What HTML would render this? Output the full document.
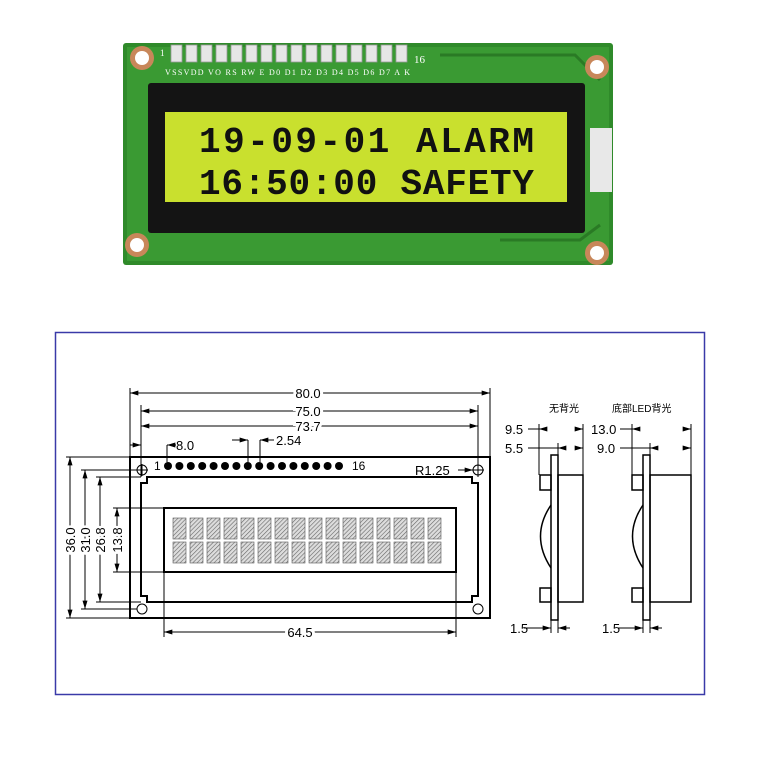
<!DOCTYPE html>
<html><head><meta charset="utf-8"><style>
html,body{margin:0;padding:0;background:#fff;width:768px;height:767px;overflow:hidden}
svg{display:block}
</style></head><body>
<svg width="768" height="767" viewBox="0 0 768 767" xmlns="http://www.w3.org/2000/svg">
<defs>
<pattern id="h" width="3" height="3" patternUnits="userSpaceOnUse" patternTransform="rotate(45)">
<rect width="3" height="3" fill="#ddd"/><line x1="0" y1="0" x2="0" y2="3" stroke="#666" stroke-width="1.2"/>
</pattern>
<marker id="a" viewBox="0 0 10 6" refX="10" refY="3" markerWidth="9" markerHeight="5" orient="auto-start-reverse"><path d="M0,0L10,3L0,6z" fill="#000"/></marker>
</defs>
<!-- PHOTO -->
<rect x="123" y="43" width="490" height="222" rx="3" fill="#2f8a2a"/>
<rect x="127" y="47" width="482" height="214" fill="#3a9a33"/>
<path d="M440 55 H575 L600 80" stroke="#2a7a25" stroke-width="3" fill="none"/>
<path d="M500 240 H580 L600 225" stroke="#2a7a25" stroke-width="3" fill="none"/>
<g fill="#c8875a"><circle cx="142" cy="58" r="12"/><circle cx="597" cy="67" r="12"/><circle cx="137" cy="245" r="12"/><circle cx="597" cy="253" r="12"/></g>
<g fill="#fff"><circle cx="142" cy="58" r="7"/><circle cx="597" cy="67" r="7"/><circle cx="137" cy="245" r="7"/><circle cx="597" cy="253" r="7"/></g>
<rect x="590" y="128" width="22" height="64" fill="#e8e8e8"/>
<g fill="#e6e6e6" stroke="#999" stroke-width="0.8">
<rect x="171" y="45" width="11" height="17"/><rect x="186" y="45" width="11" height="17"/><rect x="201" y="45" width="11" height="17"/><rect x="216" y="45" width="11" height="17"/><rect x="231" y="45" width="11" height="17"/><rect x="246" y="45" width="11" height="17"/><rect x="261" y="45" width="11" height="17"/><rect x="276" y="45" width="11" height="17"/><rect x="291" y="45" width="11" height="17"/><rect x="306" y="45" width="11" height="17"/><rect x="321" y="45" width="11" height="17"/><rect x="336" y="45" width="11" height="17"/><rect x="351" y="45" width="11" height="17"/><rect x="366" y="45" width="11" height="17"/><rect x="381" y="45" width="11" height="17"/><rect x="396" y="45" width="11" height="17"/>
</g>
<text x="160" y="56" font-family="Liberation Serif,serif" font-size="9" fill="#fff">1</text>
<text x="414" y="63" font-family="Liberation Serif,serif" font-size="11" fill="#fff">16</text>
<text x="165" y="75" font-family="Liberation Serif,serif" font-size="8" fill="#fff" textLength="245">VSSVDD VO RS RW E  D0 D1 D2 D3 D4 D5 D6 D7  A  K</text>
<rect x="148" y="83" width="437" height="150" rx="3" fill="#141414"/>
<rect x="165" y="112" width="402" height="90" fill="#c9e02e"/>
<g font-family="Liberation Mono,monospace" font-size="36" font-weight="bold" fill="#111" style="white-space:pre">
<text x="199" y="152" textLength="335">19-09-01  ALARM </text>
<text x="199" y="194" textLength="335">16:50:00  SAFETY</text>
</g>
<!-- FRAME -->
<rect x="55.5" y="332.5" width="649" height="362" fill="none" stroke="#3a3aa8" stroke-width="1.5"/>
<g stroke="#000" fill="none" stroke-width="1">
<rect x="130" y="457" width="360" height="161" stroke-width="2"/>
<path d="M147 477 H472 V483 H478 V596 H472 V602 H147 V596 H141 V483 H147 Z" stroke-width="2"/>
<rect x="164" y="508" width="292" height="64" stroke-width="2"/>
<g stroke-width="1"><circle cx="142" cy="470" r="5"/><circle cx="478" cy="470" r="5"/><circle cx="142" cy="609" r="5"/><circle cx="478" cy="609" r="5"/>
<path d="M136 470h12M142 464v12M472 470h12M478 464v12"/></g>
<path d="M130 388V457M490 388V457M141 405V477M478 405V477M164 572V637M456 572V637"/>
<path d="M66 457H130M66 618H130M81 470H137M81 609H137M96 477H141M96 602H141M113 508H164M113 572H164"/>
<path d="M167 445V462M248 440V462M260 440V462"/>
<path d="M130 393H490" marker-start="url(#a)" marker-end="url(#a)"/>
<path d="M141 411H478" marker-start="url(#a)" marker-end="url(#a)"/>
<path d="M141 426H478" marker-start="url(#a)" marker-end="url(#a)"/>
<path d="M164 632H456" marker-start="url(#a)" marker-end="url(#a)"/>
<path d="M70 457V618" marker-start="url(#a)" marker-end="url(#a)"/>
<path d="M85 470V609" marker-start="url(#a)" marker-end="url(#a)"/>
<path d="M100 477V602" marker-start="url(#a)" marker-end="url(#a)"/>
<path d="M117 508V572" marker-start="url(#a)" marker-end="url(#a)"/>
<path d="M130 445H141" marker-end="url(#a)"/><path d="M176 445H167" marker-end="url(#a)"/>
<path d="M232 440H248" marker-end="url(#a)"/><path d="M274 440H260" marker-end="url(#a)"/>
<path d="M458 470H473" marker-end="url(#a)"/>
</g>
<g fill="#000">
<circle cx="168" cy="466" r="4"/><circle cx="179.4" cy="466" r="4"/><circle cx="190.8" cy="466" r="4"/><circle cx="202.2" cy="466" r="4"/><circle cx="213.6" cy="466" r="4"/><circle cx="225" cy="466" r="4"/><circle cx="236.4" cy="466" r="4"/><circle cx="247.8" cy="466" r="4"/><circle cx="259.2" cy="466" r="4"/><circle cx="270.6" cy="466" r="4"/><circle cx="282" cy="466" r="4"/><circle cx="293.4" cy="466" r="4"/><circle cx="304.8" cy="466" r="4"/><circle cx="316.2" cy="466" r="4"/><circle cx="327.6" cy="466" r="4"/><circle cx="339" cy="466" r="4"/>
</g>
<g fill="url(#h)" stroke="#555" stroke-width="0.6">
<rect x="173" y="518" width="13" height="21"/><rect x="190" y="518" width="13" height="21"/><rect x="207" y="518" width="13" height="21"/><rect x="224" y="518" width="13" height="21"/><rect x="241" y="518" width="13" height="21"/><rect x="258" y="518" width="13" height="21"/><rect x="275" y="518" width="13" height="21"/><rect x="292" y="518" width="13" height="21"/><rect x="309" y="518" width="13" height="21"/><rect x="326" y="518" width="13" height="21"/><rect x="343" y="518" width="13" height="21"/><rect x="360" y="518" width="13" height="21"/><rect x="377" y="518" width="13" height="21"/><rect x="394" y="518" width="13" height="21"/><rect x="411" y="518" width="13" height="21"/><rect x="428" y="518" width="13" height="21"/>
<rect x="173" y="542" width="13" height="21"/><rect x="190" y="542" width="13" height="21"/><rect x="207" y="542" width="13" height="21"/><rect x="224" y="542" width="13" height="21"/><rect x="241" y="542" width="13" height="21"/><rect x="258" y="542" width="13" height="21"/><rect x="275" y="542" width="13" height="21"/><rect x="292" y="542" width="13" height="21"/><rect x="309" y="542" width="13" height="21"/><rect x="326" y="542" width="13" height="21"/><rect x="343" y="542" width="13" height="21"/><rect x="360" y="542" width="13" height="21"/><rect x="377" y="542" width="13" height="21"/><rect x="394" y="542" width="13" height="21"/><rect x="411" y="542" width="13" height="21"/><rect x="428" y="542" width="13" height="21"/>
</g>
<g font-family="Liberation Sans,sans-serif" font-size="13" fill="#000">
<text x="308" y="398" text-anchor="middle" style="paint-order:stroke" stroke="#fff" stroke-width="6">80.0</text>
<text x="308" y="416" text-anchor="middle" stroke="#fff" stroke-width="6" style="paint-order:stroke">75.0</text>
<text x="308" y="431" text-anchor="middle" stroke="#fff" stroke-width="6" style="paint-order:stroke">73.7</text>
<text x="176" y="450">8.0</text>
<text x="276" y="445">2.54</text>
<text x="154" y="470" font-size="12">1</text>
<text x="352" y="470" font-size="12">16</text>
<text x="415" y="475">R1.25</text>
<text x="300" y="637" text-anchor="middle" stroke="#fff" stroke-width="6" style="paint-order:stroke">64.5</text>
<text transform="translate(75,540) rotate(-90)" text-anchor="middle" stroke="#fff" stroke-width="5" style="paint-order:stroke">36.0</text>
<text transform="translate(90,540) rotate(-90)" text-anchor="middle" stroke="#fff" stroke-width="5" style="paint-order:stroke">31.0</text>
<text transform="translate(105,540) rotate(-90)" text-anchor="middle" stroke="#fff" stroke-width="5" style="paint-order:stroke">26.8</text>
<text transform="translate(122,540) rotate(-90)" text-anchor="middle" stroke="#fff" stroke-width="5" style="paint-order:stroke">13.8</text>
</g>
<!-- side views -->
<g stroke="#000" fill="none" stroke-width="1.5">
<rect x="551" y="455" width="7" height="165"/><rect x="558" y="475" width="25" height="127"/>
<rect x="540" y="475" width="11" height="15"/><rect x="540" y="588" width="11" height="14"/>
<path d="M551 505 Q530 536 551 568"/>
<rect x="643" y="455" width="7" height="165"/><rect x="650" y="475" width="41" height="127"/>
<rect x="632" y="475" width="11" height="15"/><rect x="632" y="588" width="11" height="14"/>
<path d="M643 505 Q622 536 643 568"/>
</g>
<g stroke="#000" fill="none" stroke-width="1">
<path d="M539 424V475M583 424V475M558 443V455M528 429H539M528 448H558"/>
<path d="M546 429H539" marker-end="url(#a)"/><path d="M576 429H583" marker-end="url(#a)"/>
<path d="M566 448H558" marker-end="url(#a)"/><path d="M576 448H583" marker-end="url(#a)"/>
<path d="M551 620V633M558 620V633M524 628H551" marker-end="url(#a)"/><path d="M570 628H558" marker-end="url(#a)"/>
<path d="M632 424V475M691 424V475M650 443V455M620 429H632M620 448H650"/>
<path d="M640 429H632" marker-end="url(#a)"/><path d="M683 429H691" marker-end="url(#a)"/>
<path d="M658 448H650" marker-end="url(#a)"/><path d="M683 448H691" marker-end="url(#a)"/>
<path d="M643 620V633M650 620V633M618 628H643" marker-end="url(#a)"/><path d="M662 628H650" marker-end="url(#a)"/>
</g>
<g font-family="Liberation Sans,sans-serif" font-size="13" fill="#000">
<text x="505" y="434">9.5</text><text x="505" y="453">5.5</text>
<text x="591" y="434">13.0</text><text x="597" y="453">9.0</text>
<text x="510" y="633">1.5</text><text x="602" y="633">1.5</text>
<text x="549" y="412" font-size="10" font-family="Liberation Sans,'Noto Sans CJK SC',sans-serif">无背光</text>
<text x="612" y="412" font-size="10" font-family="Liberation Sans,'Noto Sans CJK SC',sans-serif">底部LED背光</text>
</g>
</svg>
</body></html>
